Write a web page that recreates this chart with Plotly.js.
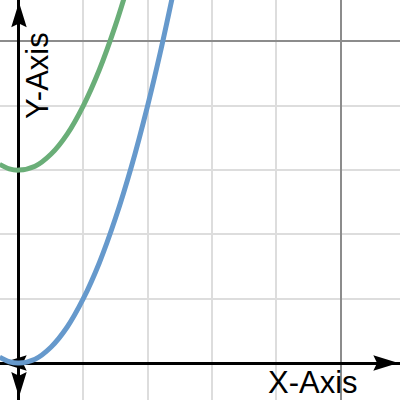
<!DOCTYPE html>
<html>
<head>
<meta charset="utf-8">
<script src="https://cdn.plot.ly/plotly-3.0.1.min.js"></script>
<style>
    html, body { margin: 0; padding: 0; background: #fff; }
    #chart { width: 400px; height: 400px; }
</style>
</head>
<body>
<div id="chart"></div>
<script>
"use strict";

// values
var blueX = [-0.3, -0.15, 0, 0.25, 0.5, 0.75, 1, 1.25, 1.5, 1.75, 2, 2.2, 2.4];
var blueY = [0.09, 0.02, 0, 0.06, 0.25, 0.56, 1, 1.56, 2.25, 3.06, 4, 4.84, 5.76];

var greenX = [-0.3, -0.15, 0, 0.25, 0.5, 0.75, 1, 1.25, 1.5, 1.7];
var greenY = [3.09, 3.02, 3, 3.06, 3.25, 3.56, 4, 4.56, 5.25, 5.89];

var xRange = [-0.295, 5.925];
var yRange = [-0.575, 5.645];

//arrow heads on the axis ends (data units, 1 unit ~ 64px)
var headLen = 0.39;
var headHalf = 0.12;

function ArrowPath(tipX, tipY, dirX, dirY) {
    var bx = tipX - dirX * headLen, by = tipY - dirY * headLen;
    var nx = bx + dirX * headLen * 0.15, ny = by + dirY * headLen * 0.15;
    var px = -dirY * headHalf, py = dirX * headHalf;
    return "M" + tipX + "," + tipY +
        " L" + (bx + px) + "," + (by + py) +
        " L" + nx + "," + ny +
        " L" + (bx - px) + "," + (by - py) + " Z";
}

var arrows = [
    ArrowPath(5.9, 0, 1, 0),
    ArrowPath(-0.27, 0, -1, 0),
    ArrowPath(0, 5.61, 0, 1),
    ArrowPath(0, -0.53, 0, -1)
];

var shapes = arrows.map(function (p) {
    return {
        type: "path",
        path: p,
        xref: "x",
        yref: "y",
        fillcolor: "#000",
        line: { width: 0 },
        layer: "below"
    };
});

var data = [
    {
        x: greenX,
        y: greenY,
        mode: "lines",
        type: "scatter",
        line: { color: "#6aae78", width: 5, shape: "spline" },
        hoverinfo: "skip"
    },
    {
        x: blueX,
        y: blueY,
        mode: "lines",
        type: "scatter",
        line: { color: "#6699cc", width: 5, shape: "spline" },
        hoverinfo: "skip"
    }
];

function AxisStyle(range) {
    return {
        range: range,
        dtick: 5,
        tick0: 0,
        showgrid: true,
        gridcolor: "#8c8c8c",
        gridwidth: 2,
        minor: { dtick: 1, tick0: 0, showgrid: true, gridcolor: "#dddddd", gridwidth: 2 },
        zeroline: true,
        zerolinecolor: "#000",
        zerolinewidth: 3,
        showticklabels: false,
        ticks: "",
        showline: false,
        fixedrange: true
    };
}

var labelFont = { family: "Liberation Sans, Arial, sans-serif", size: 31, color: "#000" };

var layout = {
    width: 400,
    height: 400,
    margin: { l: 0, r: 0, t: 0, b: 0 },
    paper_bgcolor: "#fff",
    plot_bgcolor: "#fff",
    showlegend: false,
    xaxis: AxisStyle(xRange),
    yaxis: AxisStyle(yRange),
    shapes: shapes,
    annotations: [
        {
            text: "X-Axis",
            xref: "paper", yref: "paper",
            x: 313 / 400, y: 1 - 382 / 400,
            xanchor: "center", yanchor: "middle",
            showarrow: false,
            font: labelFont
        },
        {
            text: "Y-Axis",
            xref: "paper", yref: "paper",
            x: 38 / 400, y: 1 - 76 / 400,
            xanchor: "center", yanchor: "middle",
            textangle: -90,
            showarrow: false,
            font: labelFont
        }
    ]
};

Plotly.newPlot("chart", data, layout, { staticPlot: true, displayModeBar: false });
</script>
</body>
</html>
